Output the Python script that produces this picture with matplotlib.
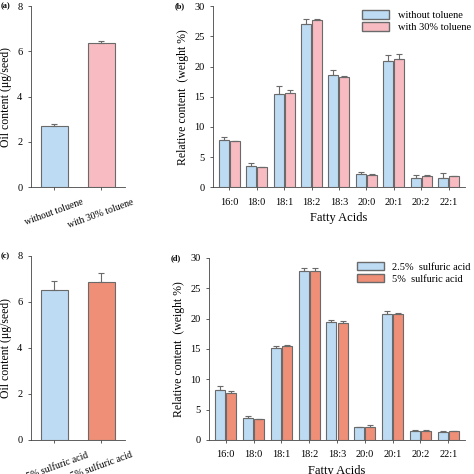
import matplotlib
matplotlib.use("Agg")
import matplotlib.pyplot as plt
import numpy as np
from matplotlib.patches import Patch

plt.rcParams['font.family'] = ['Liberation Serif', 'DejaVu Serif']
plt.rcParams['font.size'] = 7.5

groups_a = ["without toluene", "with 30% toluene"]
oil_a = [2.72, 6.38]
oil_a_err = [0.08, 0.07]
groups_c = ["2.5% sulfuric acid", "5% sulfuric acid"]
oil_c = [6.52, 6.88]
oil_c_err = [0.38, 0.38]

fatty = ["16:0", "18:0", "18:1", "18:2", "18:3", "20:0", "20:1", "20:2", "22:1"]
b_without = [7.8, 3.6, 15.5, 27.0, 18.6, 2.2, 20.9, 1.6, 1.6]
b_without_err = [0.6, 0.4, 1.2, 0.9, 0.9, 0.4, 1.0, 0.5, 0.8]
b_with = [7.6, 3.3, 15.6, 27.7, 18.3, 2.1, 21.3, 1.9, 1.8]
b_with_err = [0.1, 0.1, 0.5, 0.2, 0.2, 0.1, 0.7, 0.1, 0.1]
d_25 = [8.2, 3.6, 15.2, 27.8, 19.4, 2.1, 20.8, 1.4, 1.3]
d_25_err = [0.6, 0.3, 0.3, 0.6, 0.3, 0.05, 0.4, 0.3, 0.1]
d_5 = [7.8, 3.4, 15.5, 27.9, 19.2, 2.2, 20.7, 1.5, 1.4]
d_5_err = [0.3, 0.1, 0.1, 0.4, 0.4, 0.2, 0.2, 0.2, 0.1]

blue = "#bddcf4"
pink = "#f7bbc1"
salmon = "#f08f77"
edge = "#6a6a6a"

fig = plt.figure(figsize=(4.74, 4.74), dpi=100)

def up(e):
    return [np.zeros(len(e)), e]

def style(ax):
    for s in ["top", "right"]:
        ax.spines[s].set_visible(False)
    for s in ["left", "bottom"]:
        ax.spines[s].set_color("#444444")
        ax.spines[s].set_linewidth(0.6)
    ax.tick_params(width=0.6, length=2.5, color="#444444")

def oil_panel(rect, groups, vals, errs, colors, label):
    ax = fig.add_axes(rect)
    x = np.arange(len(groups))
    ax.bar(x, vals, width=0.57, color=colors, edgecolor=edge, linewidth=0.8,
           yerr=up(errs), error_kw=dict(ecolor=edge, elinewidth=0.8, capsize=2.5, capthick=0.8))
    ax.set_xlim(-0.5, 1.5)
    ax.set_ylim(0, 8)
    ax.set_yticks([0, 2, 4, 6, 8])
    ax.set_xticks(x)
    ax.set_xticklabels(groups, rotation=20, ha="center", fontsize=7)
    ax.tick_params(axis="x", pad=5)
    ax.set_ylabel("Oil content (μg/seed)", fontsize=8.5)
    style(ax)
    fig.text(0.002, rect[1] + rect[3], label, fontsize=6, fontweight="bold", va="center")
    return ax

def fa_panel(rect, v1, e1, v2, e2, c1, c2, l1, l2, label):
    ax = fig.add_axes(rect)
    x = np.arange(len(fatty))
    w = 0.36
    ek = dict(ecolor=edge, elinewidth=0.8, capsize=2, capthick=0.8)
    ax.bar(x - w / 2 - 0.02, v1, width=w, color=c1, edgecolor=edge, linewidth=0.8, yerr=up(e1), error_kw=ek)
    ax.bar(x + w / 2 + 0.02, v2, width=w, color=c2, edgecolor=edge, linewidth=0.8, yerr=up(e2), error_kw=ek)
    ax.set_xlim(-0.6, len(fatty) - 0.4)
    ax.set_ylim(0, 30)
    ax.set_yticks(range(0, 31, 5))
    ax.set_xticks(x)
    ax.set_xticklabels(fatty)
    ax.tick_params(axis="x", pad=5)
    ax.set_xlabel("Fatty Acids", fontsize=9)
    ax.set_ylabel("Relative content  (weight %)", fontsize=8.5)
    style(ax)
    handles = [Patch(facecolor=c1, edgecolor=edge), Patch(facecolor=c2, edgecolor=edge)]
    ax.legend(handles, [l1, l2], loc="upper right", bbox_to_anchor=(1.06, 1.03), frameon=False,
              fontsize=7.5, handlelength=2.6, handleheight=0.9, labelspacing=0.2)
    fig.text(rect[0] - 0.08, rect[1] + rect[3], label, fontsize=6, fontweight="bold", va="center")
    return ax

oil_panel([0.065, 0.605, 0.198, 0.382], groups_a, oil_a, oil_a_err, [blue, pink], "(a)")
fa_panel([0.449, 0.605, 0.532, 0.382], b_without, b_without_err, b_with, b_with_err,
         blue, pink, "without toluene", "with 30% toluene", "(b)")
oil_panel([0.065, 0.072, 0.198, 0.388], groups_c, oil_c, oil_c_err, [blue, salmon], "(c)")
fa_panel([0.441, 0.072, 0.54, 0.384], d_25, d_25_err, d_5, d_5_err,
         blue, salmon, "2.5%  sulfuric acid", "5%  sulfuric acid", "(d)")

fig.savefig("out.png", dpi=100)
